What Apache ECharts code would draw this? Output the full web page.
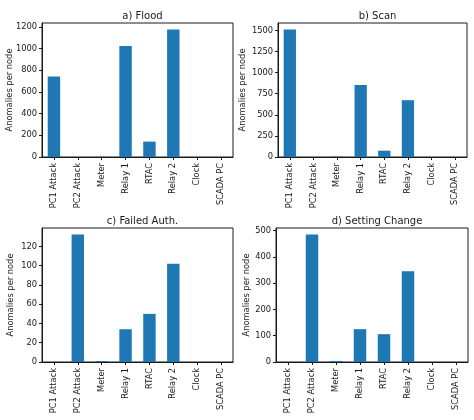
<!DOCTYPE html>
<html lang="en">
<head>
    <meta charset="UTF-8">
    <title>Anomalies per node</title>
    <script src="https://cdn.jsdelivr.net/npm/echarts@6/dist/echarts.min.js"></script>
    <style>
        html, body { margin: 0; padding: 0; background: #fff; }
        #chart { width: 474px; height: 420px; }
    </style>
</head>
<body>
    <div id="chart"></div>
    <script>
        // data
        var nodes = ['PC1 Attack', 'PC2 Attack', 'Meter', 'Relay 1', 'RTAC', 'Relay 2', 'Clock', 'SCADA PC'];
        var flood = [742, 0, 2, 1025, 142, 1178, 0, 0];
        var scan = [1512, 0, 5, 853, 75, 673, 0, 0];
        var failedAuth = [0, 132.5, 1, 34, 50, 102, 0, 0];
        var settingChange = [0, 486, 4, 125, 106, 346, 0, 0];
        var panelTitles = ['a) Flood', 'b) Scan', 'c) Failed Auth.', 'd) Setting Change'];
        var yIntervals = [200, 250, 20, 100];

        var font = 'DejaVu Sans';
        var ink = '#1a1a1a';
        var allSeries = [flood, scan, failedAuth, settingChange];

        // grid boxes: left, top, width, height (px)
        var boxes = [
            [42, 23, 191, 134],
            [278, 23, 189, 134],
            [42, 228, 191, 134],
            [276, 228, 192, 134]
        ];
        var nameGaps = [28, 31, 27, 25];

        var chart = echarts.init(document.getElementById('chart'), null, { renderer: 'canvas' });

        var grids = [], xAxes = [], yAxes = [], series = [], titles = [];
        boxes.forEach(function (b, i) {
            grids.push({
                left: b[0], top: b[1], width: b[2], height: b[3],
                show: true, borderColor: ink, borderWidth: 1, backgroundColor: 'transparent'
            });
            titles.push({
                text: panelTitles[i],
                left: b[0] + b[2] / 2,
                top: b[1] - 17,
                textAlign: 'center',
                textStyle: { fontFamily: font, fontSize: 10, fontWeight: 'normal', color: ink }
            });
            xAxes.push({
                type: 'category',
                gridIndex: i,
                data: nodes,
                boundaryGap: true,
                axisLine: { show: true, lineStyle: { color: ink, width: 1 } },
                axisTick: { show: true, alignWithLabel: true, inside: false, length: 3, lineStyle: { color: ink } },
                axisLabel: { rotate: 90, interval: 0, margin: 6, fontFamily: font, fontSize: 8.3, color: ink },
                splitLine: { show: false }
            });
            yAxes.push({
                type: 'value',
                gridIndex: i,
                min: 0,
                max: Math.max.apply(null, allSeries[i]) * 1.05,
                interval: yIntervals[i],
                name: 'Anomalies per node',
                nameLocation: 'middle',
                nameRotate: 90,
                nameGap: nameGaps[i],
                nameMoveOverlap: false,
                nameTextStyle: { fontFamily: font, fontSize: 8.3, color: ink },
                axisLine: { show: true, lineStyle: { color: ink, width: 1 } },
                axisTick: { show: true, inside: false, length: 3, lineStyle: { color: ink } },
                axisLabel: {
                    showMaxLabel: false, margin: 5, fontFamily: font, fontSize: 8.3, color: ink,
                    formatter: function (v) { return String(v); }
                },
                splitLine: { show: false }
            });
            series.push({
                type: 'bar',
                xAxisIndex: i,
                yAxisIndex: i,
                data: allSeries[i],
                barWidth: '52%',
                itemStyle: { color: '#1f77b4' },
                silent: true
            });
        });

        chart.setOption({
            animation: false,
            title: titles,
            grid: grids,
            xAxis: xAxes,
            yAxis: yAxes,
            series: series
        });
    </script>
</body>
</html>
